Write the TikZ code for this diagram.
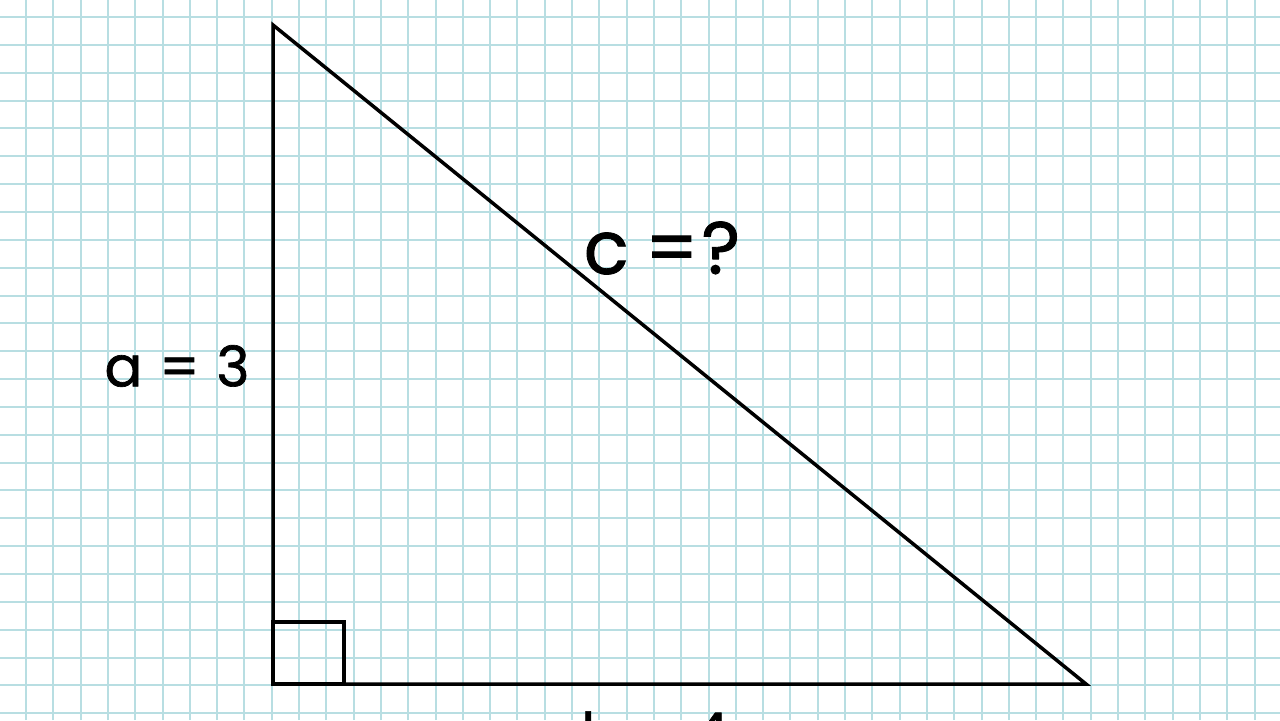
\documentclass[tikz,border=0pt]{standalone}
\usepackage{fontspec}
\setmainfont{Poppins}
\newfontfamily\labelfont{Poppins}[FakeBold=1.2]
\definecolor{gridline}{RGB}{184,222,226}

\begin{document}
\begin{tikzpicture}[x=0.5pt,y=0.5pt]
\useasboundingbox (0,0) rectangle (1280,720);
\begin{scope}
\clip (0,0) rectangle (1280,720);
\fill [white] (0,0) rectangle (1280,720);
% paper grid
\foreach \k in {0,...,46} \draw [gridline, line width=1pt] ({26+27.3*\k},0) -- ({26+27.3*\k},720);
\foreach \k in {0,...,25} \draw [gridline, line width=1pt] (0,{703-27.85*\k}) -- (1280,{703-27.85*\k});
% triangle
\coordinate (A) at (273,695);
\coordinate (C) at (273,36);
\coordinate (B) at (1086,36);
\draw [line width=1.75pt, color=black] (A) -- (C) -- (B) -- cycle;
\draw [line width=1.75pt, color=black] (C) rectangle ++(71,62);
\node (la) at (177,354) {\labelfont\fontsize{28}{32}\selectfont a\hspace{0.3em}=\hspace{0.3em}3};
\node (lc) at (662,472) {\labelfont\fontsize{37}{42}\selectfont c\hspace{0.22em}=\hspace{0.04em}?};
\node (lb) [anchor=north, inner sep=0pt] at (655,9) {\labelfont\fontsize{28}{32}\selectfont b\hspace{0.3em}=\hspace{0.3em}4};
\end{scope}
\end{tikzpicture}
\end{document}
